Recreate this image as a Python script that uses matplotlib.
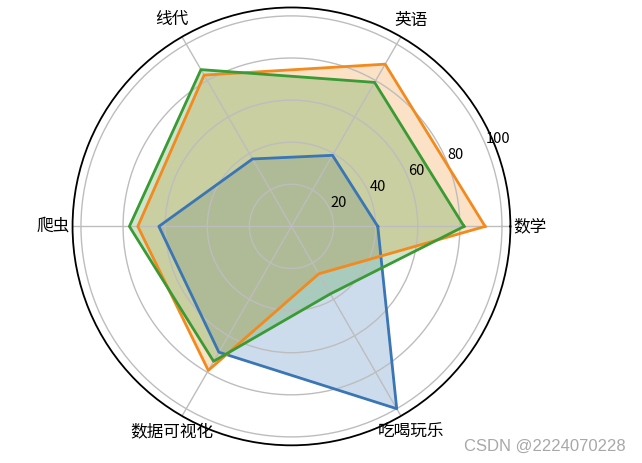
import numpy as np
import matplotlib.pyplot as plt

plt.rcParams['font.family'] = ['Noto Sans CJK SC', 'DejaVu Sans']

# categories and the three score series
labels = ['数学', '英语', '线代', '爬虫', '数据可视化', '吃喝玩乐']
blue_scores = [41, 39, 37, 63, 69, 100]
orange_scores = [92, 89, 83, 73, 79, 26]
green_scores = [82, 79, 86, 77, 74, 37]
r_ticks = [20, 40, 60, 80, 100]

angles = np.linspace(0, 2 * np.pi, len(labels), endpoint=False)
angles_closed = np.concatenate([angles, angles[:1]])

fig = plt.figure(figsize=(6.42, 4.63), dpi=100)
ax = fig.add_axes([0.113, 0.038, 0.682, 0.946], polar=True)

for scores, color in [(blue_scores, '#3a75b5'), (orange_scores, '#f28a1e'), (green_scores, '#3a9a34')]:
    vals = np.concatenate([scores, scores[:1]])
    ax.plot(angles_closed, vals, color=color, linewidth=2)
    ax.fill(angles_closed, vals, color=color, alpha=0.25)

ax.set_thetagrids(np.degrees(angles), labels, fontsize=12)
ax.set_ylim(0, 104)
ax.set_yticks(r_ticks)
ax.set_yticklabels([str(t) for t in r_ticks], fontsize=10.5)
ax.set_rlabel_position(22.5)
ax.grid(color='#bdbdbd', linewidth=1)
ax.spines['polar'].set_linewidth(1.3)

fig.text(0.975, 0.02, 'CSDN @2224070228', ha='right', va='bottom',
         fontsize=12, color='#a8a8a8', family=['Liberation Sans', 'DejaVu Sans'])

fig.savefig('out.png', dpi=100)
